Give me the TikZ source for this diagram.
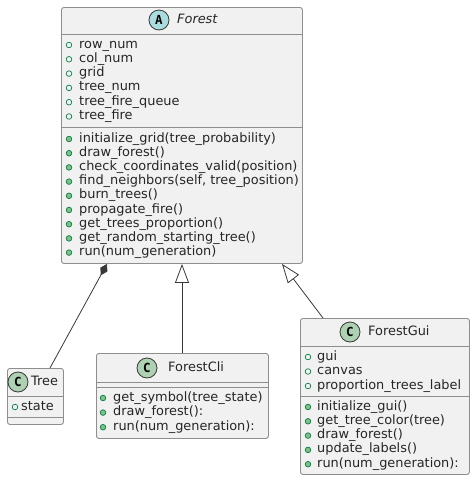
\documentclass[tikz,border=0pt]{standalone}
\usepackage{fontspec}
\setmainfont{DejaVu Sans}
\setmonofont{DejaVu Sans Mono}
\usetikzlibrary{arrows.meta,calc}
\definecolor{boxfill}{HTML}{F1F1F1}
\definecolor{boxline}{HTML}{8E8E8E}
\definecolor{arrline}{HTML}{383838}
\definecolor{visgreen}{HTML}{038048}
\definecolor{visfill}{HTML}{84BE84}
\definecolor{absfill}{HTML}{A9DCDF}
\definecolor{clsfill}{HTML}{ADD1B2}
\newcommand\memberlist[7]{%
  \foreach \t [count=\i] in {#7} {
    \path[#2] (#3,{#5+(\i-1)*#6}) circle[radius=2.8];
    \node[member] (#1\i) at (#4,{#5+(\i-1)*#6}) {\t};
  }}
\begin{document}
\begin{tikzpicture}[x=1pt,y=-1pt,
  font=\fontsize{12.9}{14}\selectfont,
  classbox/.style={draw=boxline, fill=boxfill, line width=0.9pt, rounded corners=2.5pt, anchor=north west, inner sep=0pt},
  sepline/.style={draw=boxline, line width=0.9pt},
  member/.style={anchor=west, inner sep=0pt, text height=9pt, text depth=3pt, text=black!85},
  title/.style={inner sep=0pt, text height=9pt, text depth=3pt, text=black!85},
  fieldvis/.style={draw=visgreen, line width=0.7pt},
  methvis/.style={draw=visgreen, fill=visfill, line width=0.7pt},
  kind/.style={circle, draw=arrline, line width=0.8pt, fill=#1, minimum size=20pt, inner sep=0pt, font=\fontsize{12.5}{12.5}\selectfont\ttfamily\bfseries},
  comp/.style={draw=arrline, line width=0.8pt, {Diamond[length=13pt,width=8pt,fill=arrline]}-},
  inh/.style={draw=arrline, line width=0.8pt, -{Triangle[open,length=19pt,width=14pt,fill=white]}}
]
\useasboundingbox (0,0) rectangle (474,480);

% Forest
\node[classbox, minimum width=241pt, minimum height=256pt] (forest) at (61,7) {};
\draw[sepline] ($(forest.north west)+(0,27)$) -- ($(forest.north east)+(0,27)$);
\draw[sepline] ($(forest.north west)+(0,120)$) -- ($(forest.north east)+(0,120)$);
\node[kind=absfill] (forestk) at (159,20) {A};
\node[title, anchor=west, font=\fontsize{12.9}{14}\selectfont\itshape] (forestt) at (177,20) {Forest};
\memberlist{fa}{fieldvis}{69}{79}{45}{14.3}{row\_num,col\_num,grid,tree\_num,tree\_fire\_queue,tree\_fire}
\memberlist{fm}{methvis}{69}{79}{139}{14.2}{initialize\_grid(tree\_probability),draw\_forest(),check\_coordinates\_valid(position),{find\_neighbors(self, tree\_position)},burn\_trees(),propagate\_fire(),get\_trees\_proportion(),get\_random\_starting\_tree(),run(num\_generation)}

% Tree
\node[classbox, minimum width=56pt, minimum height=56pt] (tree) at (7,368) {};
\draw[sepline] ($(tree.north west)+(0,28)$) -- ($(tree.north east)+(0,28)$);
\draw[sepline] ($(tree.north west)+(0,49)$) -- ($(tree.north east)+(0,49)$);
\node[kind=clsfill] (treek) at (18,382) {C};
\node[title, anchor=west] (treet) at (31,382) {Tree};
\memberlist{ta}{fieldvis}{15}{21}{407}{14.3}{state}

% ForestCli
\node[classbox, minimum width=172pt, minimum height=85pt] (cli) at (96,353) {};
\draw[sepline] ($(cli.north west)+(0,29)$) -- ($(cli.north east)+(0,29)$);
\draw[sepline] ($(cli.north west)+(0,34)$) -- ($(cli.north east)+(0,34)$);
\node[kind=clsfill] (clik) at (147,368) {C};
\node[title, anchor=west] (clit) at (168,368) {ForestCli};
\memberlist{cm}{methvis}{103}{113}{398}{14.6}{get\_symbol(tree\_state),draw\_forest():,run(num\_generation):}

% ForestGui
\node[classbox, minimum width=169pt, minimum height=156pt] (gui) at (300,318) {};
\draw[sepline] ($(gui.north west)+(0,28)$) -- ($(gui.north east)+(0,28)$);
\draw[sepline] ($(gui.north west)+(0,78)$) -- ($(gui.north east)+(0,78)$);
\node[kind=clsfill] (guik) at (350,332) {C};
\node[title, anchor=west] (guit) at (368,332) {ForestGui};
\memberlist{ga}{fieldvis}{308}{317}{357}{14.5}{gui,canvas,proportion\_trees\_label}
\memberlist{gm}{methvis}{308}{317}{407}{14.3}{initialize\_gui(),get\_tree\_color(tree),draw\_forest(),update\_labels(),run(num\_generation):}

% connectors
\draw[comp] ($(forest.south west)+(46,0)$) -- ($(tree.north west)+(43,0)$);
\draw[inh] ($(cli.north west)+(86,0)$) -- ($(forest.south west)+(121,0)$);
\draw[inh] ($(gui.north west)+(23,0)$) -- ($(forest.south west)+(221,0)$);
\end{tikzpicture}
\end{document}
